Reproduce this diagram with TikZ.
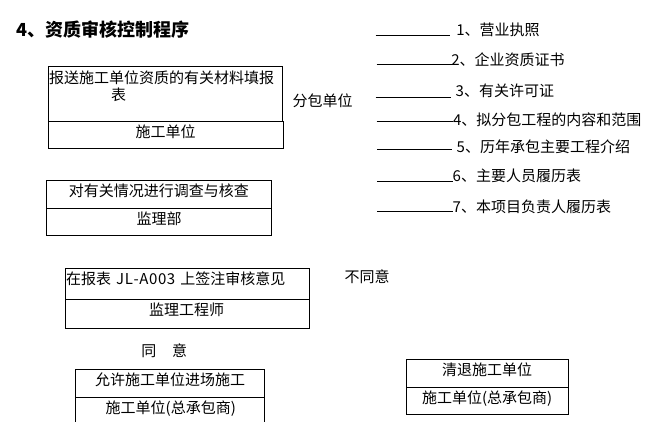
\documentclass[tikz,border=0pt]{standalone}
\usepackage{fontspec}
\setmainfont{Noto Sans CJK SC}
\begin{document}
\begin{tikzpicture}[x=1pt,y=-1pt,
  boxline/.style={draw=black,line width=0.8pt},
  rule/.style={draw=black,line width=0.8pt},
  t15/.style={inner sep=0pt,font=\fontsize{15pt}{18pt}\selectfont},
  title/.style={inner sep=0pt,font=\fontsize{18pt}{22pt}\selectfont\bfseries}]
\useasboundingbox[fill=white] (0,0) rectangle (651,422);
% title
\node[title,anchor=west] (ttl) at (16,29.5) {4、资质审核控制程序};
% box 1
\draw[boxline] (48.3,66.3) rectangle (282.7,121);
\draw[boxline] (48.3,121) rectangle (283.3,148);
\node[t15,anchor=west] (b1a) at (48.8,77.3) {报送施工单位资质的有关材料填报};
\node[t15] (b1b) at (118.5,95) {表};
\node[t15] (b1c) at (165.7,132) {施工单位};
\node[t15,anchor=west] (fb) at (292.3,100.7) {分包单位};
% box 2
\draw[boxline] (46.3,180.3) rectangle (271.3,208.3);
\draw[boxline] (46.3,208.3) rectangle (271.3,235.3);
\node[t15] (b2a) at (158.8,190.7) {对有关情况进行调查与核查};
\node[t15] (b2b) at (159,218.3) {监理部};
% box 3
\draw[boxline] (65.3,268.3) rectangle (309.3,299.3);
\draw[boxline] (65.3,299.3) rectangle (309.3,328.3);
\node[t15,anchor=west] (b3a) at (66,279) {在报表\hspace{5pt}J\kern0.6pt L\kern0.6pt-\kern0.6pt A\kern0.6pt 0\kern0.6pt 0\kern0.6pt 3\hspace{5pt}上签注审核意见};
\node[t15] (b3b) at (186.7,310) {监理工程师};
\node[t15,anchor=west] (bty) at (344.5,276.7) {不同意};
\node[t15,anchor=west] (ty) at (141.2,351) {同\hspace{15.7pt}意};
% box 4
\draw[boxline] (75.7,369.3) rectangle (264.3,397.3);
\draw[boxline] (75.7,397.3) -- (75.7,423);
\draw[boxline] (264.3,397.3) -- (264.3,423);
\node[t15] (b4a) at (170,380) {允许施工单位进场施工};
\node[t15] (b4b) at (170.8,408.3) {施工单位(总承包商)};
% box 5
\draw[boxline] (406.7,359.3) rectangle (568.3,387);
\draw[boxline] (406.7,387) rectangle (568.3,414);
\node[t15] (b5a) at (487,370) {清退施工单位};
\node[t15] (b5b) at (487.2,398.3) {施工单位(总承包商)};
% list
\draw[rule] (375.7,35) -- (450,35);
\node[t15,anchor=west] (l1) at (456.2,30) {1、营业执照};
\draw[rule] (376.7,64.3) -- (451.7,64.3);
\node[t15,anchor=west] (l2) at (451.2,60) {2、企业资质证书};
\draw[rule] (375.7,97.7) -- (450.7,97.7);
\node[t15,anchor=west] (l3) at (455.5,90.7) {3、有关许可证};
\draw[rule] (376.7,121) -- (453.3,121);
\node[t15,anchor=west] (l4) at (452.8,120) {4、拟分包工程的内容和范围};
\draw[rule] (377,149) -- (451.7,149);
\node[t15,anchor=west] (l5) at (456.5,146.7) {5、历年承包主要工程介绍};
\draw[rule] (377,181) -- (453,181);
\node[t15,anchor=west] (l6) at (452.5,176) {6、主要人员履历表};
\draw[rule] (377,211) -- (453,211);
\node[t15,anchor=west] (l7) at (452.5,206.7) {7、本项目负责人履历表};
\end{tikzpicture}
\end{document}
